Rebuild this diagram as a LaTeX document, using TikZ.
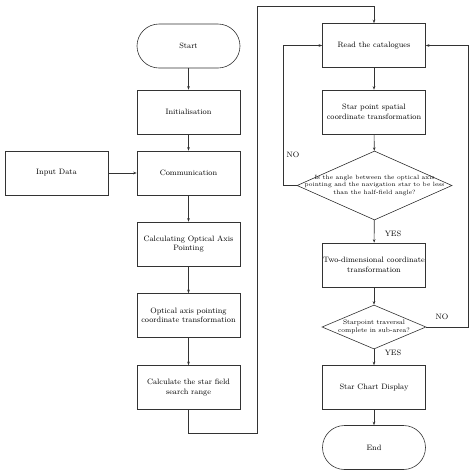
\documentclass[tikz,border=0pt]{standalone}
\usetikzlibrary{shapes.geometric,arrows.meta}
\begin{document}
\begin{tikzpicture}[x=1pt,y=-1pt,
  line width=0.6pt, draw=black!80,
  box/.style={draw=black!80, rectangle, minimum width=103pt, minimum height=44pt, align=center, font=\fontsize{7.8}{9.5}\selectfont, inner sep=1pt},
  term/.style={box, rounded corners=22pt},
  dia/.style={draw=black!80, diamond, inner sep=0pt},
  lab/.style={font=\fontsize{7.8}{9.5}\selectfont},
  arr/.style={draw=black!80, -{Stealth[length=3.5pt,width=2.6pt]}}
]
\useasboundingbox (0,0) rectangle (474,475);
% left column
\node[term] (start) at (188.5,46) {Start};
\node[box] (init) at (188.5,112) {Initialisation};
\node[box] (comm) at (188.5,173) {Communication};
\node[box] (input) at (56.5,173) {Input Data};
\node[box] (calc) at (188.5,244) {Calculating Optical Axis\\Pointing};
\node[box] (opt) at (188.5,315.5) {Optical axis pointing\\coordinate transformation};
\node[box] (range) at (188.5,387.5) {Calculate the star field\\search range};
% right column
\node[box] (read) at (374,45.5) {Read the catalogues};
\node[box] (spat) at (374,112) {Star point spatial\\coordinate transformation};
\node[dia, minimum width=155pt, minimum height=69pt] (d1) at (374.5,185.5) {};
\node[align=center, font=\fontsize{6.1}{7.6}\selectfont, inner sep=0pt] (d1t) at (374.5,185.5) {Is the angle between the optical axis\\pointing and the navigation star to be less\\than the half-field angle?};
\node[box] (twod) at (374,265) {Two-dimensional coordinate\\transformation};
\node[dia, minimum width=104pt, minimum height=44pt] (d2) at (374,327) {};
\node[align=center, font=\fontsize{6.6}{8}\selectfont, inner sep=0pt] (d2t) at (374,327) {Starpoint traversal\\complete in sub-area?};
\node[box] (chart) at (374,387.5) {Star Chart Display};
\node[term] (end) at (374,447.5) {End};
% coordinates
\coordinate (c1) at (257,433);
\coordinate (c2) at (257,6);
\coordinate (n1) at (283,185.5);
\coordinate (n2) at (468,327);
% connectors
\draw[arr] (start) -- (init);
\draw[arr] (init) -- (comm);
\draw[arr] (input) -- (comm);
\draw[arr] (comm) -- (calc);
\draw[arr] (calc) -- (opt);
\draw[arr] (opt) -- (range);
\draw[arr] (range.south) |- (c1) -- (c2) -| (read.north);
\draw[arr] (read) -- (spat);
\draw[arr] (spat) -- (d1);
\draw[arr] (d1.west) -- (n1) |- (read.west);
\draw[arr] (d1) -- (twod);
\draw[arr] (twod) -- (d2);
\draw[arr] (d2.east) -- (n2) |- (read.east);
\draw[arr] (d2) -- (chart);
\draw[arr] (chart) -- (end);
% labels
\node[lab] (no1) at (293,155) {NO};
\node[lab] (yes1) at (393,234) {YES};
\node[lab] (no2) at (442,317) {NO};
\node[lab] (yes2) at (393,353) {YES};
\end{tikzpicture}
\end{document}
